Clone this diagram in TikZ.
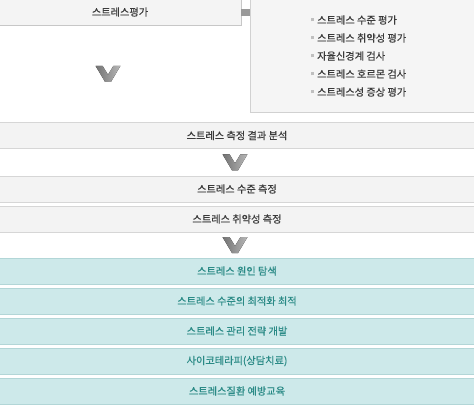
\documentclass[tikz,border=0pt]{standalone}
\usepackage{fontspec}
\setmainfont{Noto Sans CJK KR}[UprightFeatures={FakeBold=0.5}]
\usepackage{xcolor}
\usetikzlibrary{positioning, calc}

\definecolor{rowgray}{HTML}{F3F3F3}
\definecolor{linegray}{HTML}{D6D6D6}
\definecolor{textgray}{HTML}{3A3A3A}
\definecolor{tealfill}{HTML}{CDE9EA}
\definecolor{tealline}{HTML}{B2D6D7}
\definecolor{tealtext}{HTML}{2A8A86}

\begin{document}
\begin{tikzpicture}[
    x=1pt, y=-1pt,
    node distance=4pt,
    font=\fontsize{10.2}{12}\selectfont,
    graybox/.style={rectangle, draw=linegray, fill=rowgray, line width=0.8pt, text=textgray, minimum width=476pt, minimum height=26pt, inner sep=0pt, outer sep=0pt},
    tealbox/.style={rectangle, draw=tealline, fill=tealfill, line width=0.8pt, text=tealtext, minimum width=476pt, minimum height=26pt, inner sep=0pt, outer sep=0pt},
    listitem/.style={anchor=west, text=textgray, inner sep=0pt},
    chev/.pic={
        \fill[left color=black!55, right color=black!28]
            (-12.5,-8) -- (-5.5,-8) -- (0,1) -- (5.5,-8) -- (12.5,-8) -- (3,8) -- (-3,8) -- cycle;
    }
]
\path[use as bounding box] (0,0) rectangle (474,405);
\clip (0,0) rectangle (474,405);

% assessment and its tests
\node[graybox, fill=rowgray!90!white, draw=black!22, minimum width=242pt] (eval) at (120,12) {스트레스평가};
\node[rectangle, draw=black!18, fill=black!4, line width=0.8pt, minimum width=225pt, minimum height=113pt, outer sep=0pt] (tests) at (362.5,55.5) {};
\draw[black!40, line width=7pt] (eval.east) -- (eval.east -| tests.west);
\foreach \y/\txt in {20/스트레스 수준 평가, 38/스트레스 취약성 평가, 56/자율신경계 검사, 74/스트레스 호르몬 검사, 92/스트레스성 증상 평가}
    \node[listitem] at (311,\y) {{\color{black!25}\rule[2.5pt]{3pt}{3pt}}\hspace{3pt}\txt};

% measurement
\node[graybox] (analysis) at (237,135.5) {스트레스 측정 결과 분석};
\node[graybox] (level) at (237,189) {스트레스 수준 측정};
\node[graybox, below=of level] (weak) {스트레스 취약성 측정};

% management
\node[tealbox] (cause) at (237,271) {스트레스 원인 탐색};
\node[tealbox, below=of cause] (optim) {스트레스 수준의 최적화 최적};
\node[tealbox, below=of optim] (strategy) {스트레스 관리 전략 개발};
\node[tealbox, below=of strategy] (therapy) {사이코테라피(상담치료)};
\node[tealbox, below=of therapy] (edu) {스트레스질환 예방교육};

\pic at ($(eval.south)!0.5!(analysis.north -| eval.south)$) [xshift=-12pt] {chev};
\pic at ($(analysis.south)!0.5!(level.north)$) [xshift=-2pt] {chev};
\pic at ($(weak.south)!0.5!(cause.north)$) [xshift=-2pt] {chev};
\end{tikzpicture}
\end{document}
